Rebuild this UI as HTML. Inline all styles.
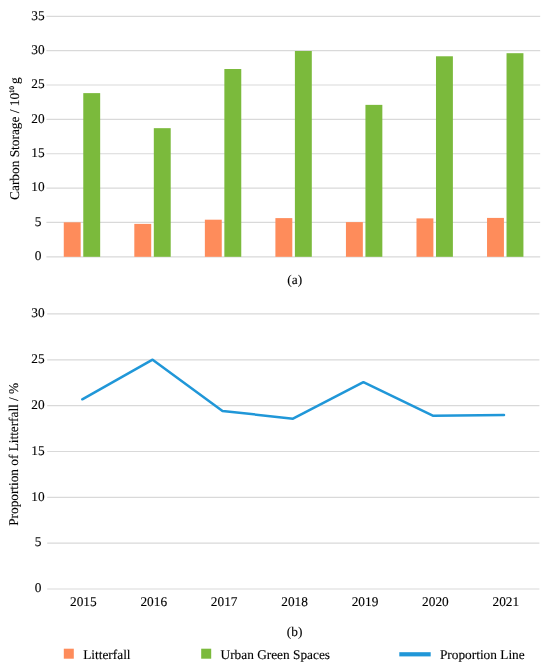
<!DOCTYPE html><html><head><meta charset="utf-8"><style>html,body{margin:0;padding:0;background:#fff;}svg{display:block;}text{text-rendering:geometricPrecision;font-family:"Liberation Serif","Times New Roman",serif;font-size:13.33px;fill:#000;stroke:#000;stroke-width:0.12px;}</style></head><body>
<svg width="550" height="671" viewBox="0 0 550 671">
<rect width="550" height="671" fill="#fff"/>
<line x1="46.4" x2="540.2" y1="256.80" y2="256.80" stroke="#D9D9D9" stroke-width="1.2"/>
<text x="38.0" y="260.10" text-anchor="middle">0</text>
<line x1="46.4" x2="540.2" y1="222.44" y2="222.44" stroke="#D9D9D9" stroke-width="1.2"/>
<text x="38.0" y="225.74" text-anchor="middle">5</text>
<line x1="46.4" x2="540.2" y1="188.09" y2="188.09" stroke="#D9D9D9" stroke-width="1.2"/>
<text x="38.0" y="191.39" text-anchor="middle">10</text>
<line x1="46.4" x2="540.2" y1="153.73" y2="153.73" stroke="#D9D9D9" stroke-width="1.2"/>
<text x="38.0" y="157.03" text-anchor="middle">15</text>
<line x1="46.4" x2="540.2" y1="119.37" y2="119.37" stroke="#D9D9D9" stroke-width="1.2"/>
<text x="38.0" y="122.67" text-anchor="middle">20</text>
<line x1="46.4" x2="540.2" y1="85.02" y2="85.02" stroke="#D9D9D9" stroke-width="1.2"/>
<text x="38.0" y="88.32" text-anchor="middle">25</text>
<line x1="46.4" x2="540.2" y1="50.66" y2="50.66" stroke="#D9D9D9" stroke-width="1.2"/>
<text x="38.0" y="53.96" text-anchor="middle">30</text>
<line x1="46.4" x2="540.2" y1="16.30" y2="16.30" stroke="#D9D9D9" stroke-width="1.2"/>
<text x="38.0" y="19.60" text-anchor="middle">35</text>
<rect x="63.77" y="222.31" width="16.9" height="34.49" fill="#FE8C5B"/>
<rect x="83.27" y="93.12" width="16.9" height="163.68" fill="#7BBA3C"/>
<rect x="134.31" y="223.89" width="16.9" height="32.91" fill="#FE8C5B"/>
<rect x="153.81" y="128.17" width="16.9" height="128.63" fill="#7BBA3C"/>
<rect x="204.86" y="219.69" width="16.9" height="37.11" fill="#FE8C5B"/>
<rect x="224.36" y="69.00" width="16.9" height="187.80" fill="#7BBA3C"/>
<rect x="275.40" y="218.11" width="16.9" height="38.69" fill="#FE8C5B"/>
<rect x="294.90" y="51.00" width="16.9" height="205.80" fill="#7BBA3C"/>
<rect x="345.94" y="222.10" width="16.9" height="34.70" fill="#FE8C5B"/>
<rect x="365.44" y="104.87" width="16.9" height="151.93" fill="#7BBA3C"/>
<rect x="416.49" y="218.39" width="16.9" height="38.41" fill="#FE8C5B"/>
<rect x="435.99" y="56.29" width="16.9" height="200.51" fill="#7BBA3C"/>
<rect x="487.03" y="217.91" width="16.9" height="38.89" fill="#FE8C5B"/>
<rect x="506.53" y="53.20" width="16.9" height="203.60" fill="#7BBA3C"/>
<text transform="translate(18.5,199.9) rotate(-90)">Carbon Storage / 10<tspan font-size="6.8" dy="-5" style="stroke-width:0.25px">10</tspan><tspan dy="5" dx="-1.2"> g</tspan></text>
<text x="294.7" y="284.2" text-anchor="middle">(a)</text>
<line x1="47.2" x2="539.4" y1="589.00" y2="589.00" stroke="#D9D9D9" stroke-width="1.2"/>
<text x="38.0" y="592.30" text-anchor="middle">0</text>
<line x1="47.2" x2="539.4" y1="543.16" y2="543.16" stroke="#D9D9D9" stroke-width="1.2"/>
<text x="38.0" y="546.46" text-anchor="middle">5</text>
<line x1="47.2" x2="539.4" y1="497.32" y2="497.32" stroke="#D9D9D9" stroke-width="1.2"/>
<text x="38.0" y="500.62" text-anchor="middle">10</text>
<line x1="47.2" x2="539.4" y1="451.48" y2="451.48" stroke="#D9D9D9" stroke-width="1.2"/>
<text x="38.0" y="454.78" text-anchor="middle">15</text>
<line x1="47.2" x2="539.4" y1="405.64" y2="405.64" stroke="#D9D9D9" stroke-width="1.2"/>
<text x="38.0" y="408.94" text-anchor="middle">20</text>
<line x1="47.2" x2="539.4" y1="359.80" y2="359.80" stroke="#D9D9D9" stroke-width="1.2"/>
<text x="38.0" y="363.10" text-anchor="middle">25</text>
<line x1="47.2" x2="539.4" y1="313.96" y2="313.96" stroke="#D9D9D9" stroke-width="1.2"/>
<text x="38.0" y="317.26" text-anchor="middle">30</text>
<polyline points="82.3,399.3 152.6,359.7 222.5,410.9 293.0,418.7 363.4,382.2 433.3,415.8 504.0,415.0" fill="none" stroke="#2097D8" stroke-width="2.5" stroke-linecap="round" stroke-linejoin="round"/>
<text x="83.30" y="606" text-anchor="middle">2015</text>
<text x="153.72" y="606" text-anchor="middle">2016</text>
<text x="224.14" y="606" text-anchor="middle">2017</text>
<text x="294.56" y="606" text-anchor="middle">2018</text>
<text x="364.98" y="606" text-anchor="middle">2019</text>
<text x="435.40" y="606" text-anchor="middle">2020</text>
<text x="505.82" y="606" text-anchor="middle">2021</text>
<text transform="translate(18.3,525.8) rotate(-90)" textLength="143.0" lengthAdjust="spacing">Proportion of Litterfall / %</text>
<text x="294.6" y="636.0" text-anchor="middle">(b)</text>
<rect x="63.8" y="648.7" width="10" height="10" fill="#FE8C5B"/>
<text x="83.2" y="658.9">Litterfall</text>
<rect x="201.2" y="648.7" width="10" height="10" fill="#7BBA3C"/>
<text x="220.5" y="658.9">Urban Green Spaces</text>
<rect x="399.3" y="652.2" width="31.4" height="4.2" fill="#2097D8"/>
<text x="439.9" y="658.9">Proportion Line</text>
</svg></body></html>
